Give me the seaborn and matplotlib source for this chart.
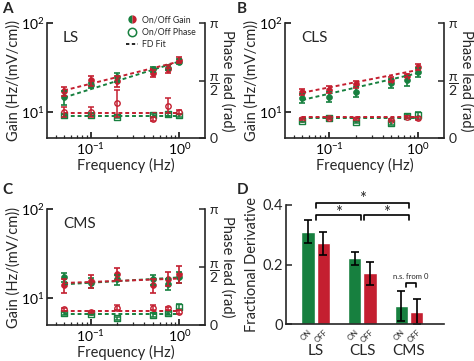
import numpy as np
import pandas as pd
import matplotlib
matplotlib.use("Agg")
import matplotlib.pyplot as plt
from matplotlib.lines import Line2D
from matplotlib.ticker import NullLocator, FixedLocator, LogLocator
import seaborn as sns

# ---------------- data ----------------
freqs = [0.05, 0.1, 0.2, 0.5, 0.75, 1.0]
fit_freqs = [0.05, 1.0]

# LS
ls_gain_on = [14.5, 19.7, 24.4, 30.1, 31.0, 36.5]
ls_gain_on_err = [2.5, 1.5, 3.0, 2.0, 2.0, 2.5]
ls_gain_off = [16.9, 22.4, 22.0, 27.0, 30.0, 37.8]
ls_gain_off_err = [2.0, 3.0, 3.0, 2.5, 3.0, 3.0]
ls_phase_on = [0.63, 0.64, 0.59, 0.62, 0.65, 0.62]
ls_phase_on_err = [0.04, 0.04, 0.04, 0.05, 0.04, 0.04]
ls_phase_off = [0.72, 0.72, 0.95, 0.52, 0.89, 0.72]
ls_phase_off_err = [0.14, 0.14, 0.36, 0.06, 0.20, 0.06]
ls_fit_on = [14.4, 36.6]
ls_fit_off = [17.3, 36.6]
ls_phase_fit_on = 0.61
ls_phase_fit_off = 0.68

# CLS
cls_gain_on = [14.1, 14.7, 16.7, 21.0, 22.4, 27.7]
cls_gain_on_err = [1.5, 2.0, 2.0, 2.5, 3.0, 3.0]
cls_gain_off = [16.7, 17.7, 20.2, 22.8, 25.4, 31.9]
cls_gain_off_err = [1.2, 1.5, 1.8, 1.5, 1.2, 2.5]
cls_phase_on = [0.48, 0.56, 0.45, 0.42, 0.60, 0.62]
cls_phase_on_err = [0.04, 0.03, 0.03, 0.05, 0.05, 0.10]
cls_phase_off = [0.53, 0.56, 0.53, 0.50, 0.58, 0.54]
cls_phase_off_err = [0.03, 0.03, 0.03, 0.03, 0.03, 0.03]
cls_fit_on = [13.5, 27.1]
cls_fit_off = [16.3, 29.4]
cls_phase_fit_on = 0.55
cls_phase_fit_off = 0.57

# CMS
cms_gain_on = [17.1, 14.9, 16.2, 16.2, 14.4, 17.3]
cms_gain_on_err = [2.0, 2.0, 2.0, 2.0, 2.0, 2.5]
cms_gain_off = [14.0, 15.6, 18.9, 14.0, 16.6, 18.9]
cms_gain_off_err = [2.5, 2.5, 3.0, 2.5, 3.0, 4.0]
cms_phase_on = [0.32, 0.30, 0.18, 0.27, 0.32, 0.50]
cms_phase_on_err = [0.04, 0.03, 0.05, 0.05, 0.04, 0.06]
cms_phase_off = [0.42, 0.36, 0.47, 0.47, 0.45, 0.36]
cms_phase_off_err = [0.05, 0.03, 0.06, 0.06, 0.05, 0.05]
cms_fit_on = [14.3, 17.1]
cms_fit_off = [14.8, 16.6]
cms_phase_fit_on = 0.30
cms_phase_fit_off = 0.38

# Fractional derivative
regions = ["LS", "CLS", "CMS"]
fd_on = [0.31, 0.221, 0.060]
fd_on_err = [0.038, 0.022, 0.050]
fd_off = [0.271, 0.170, 0.041]
fd_off_err = [0.038, 0.039, 0.042]

# ---------------- style ----------------
sns.set_theme(style="ticks")
plt.rcParams["font.family"] = ["Lato", "DejaVu Sans"]
plt.rcParams["mathtext.default"] = "regular"
plt.rcParams["axes.linewidth"] = 1.2

GREEN = "#17803f"
RED = "#c41f30"
DASH = (0, (2.0, 1.5))
FS_LAB = 10.5
FS_TICK = 10

fig = plt.figure(figsize=(4.74, 3.61), dpi=100)


def px_axes(l, t, r, b):
    return fig.add_axes([l / 474, 1 - b / 361, (r - l) / 474, (b - t) / 361])


def gain_panel(ax, name, g_on, g_on_e, g_off, g_off_e, p_on, p_on_e, p_off, p_off_e,
               f_on, f_off, pf_on, pf_off):
    ax.set_xscale("log")
    ax.set_yscale("log")
    ax2 = ax.twinx()
    # fits
    sns.lineplot(x=fit_freqs, y=f_on, ax=ax, color=GREEN, lw=1.4, linestyle=DASH)
    sns.lineplot(x=fit_freqs, y=f_off, ax=ax, color=RED, lw=1.4, linestyle=DASH)
    sns.lineplot(x=fit_freqs, y=[pf_on, pf_on], ax=ax2, color=GREEN, lw=1.4, linestyle=DASH)
    sns.lineplot(x=fit_freqs, y=[pf_off, pf_off], ax=ax2, color=RED, lw=1.4, linestyle=DASH)
    # gain points
    for g, ge, c in ((g_on, g_on_e, GREEN), (g_off, g_off_e, RED)):
        ax.errorbar(freqs, g, yerr=ge, fmt="none", ecolor=c, elinewidth=1.2,
                    capsize=2, capthick=1.2)
        sns.scatterplot(x=freqs, y=g, ax=ax, color=c, s=18, edgecolor=c, linewidth=0.5)
    # phase points
    for p, pe, c, m in ((p_on, p_on_e, GREEN, "s"), (p_off, p_off_e, RED, "o")):
        ax2.errorbar(freqs, p, yerr=pe, fmt="none", ecolor=c, elinewidth=1.1,
                     capsize=2, capthick=1.1)
        sns.scatterplot(x=freqs, y=p, ax=ax2, marker=m, facecolor="white",
                        edgecolor=c, linewidth=1.0, s=15)
    ax.set_xlim(0.032, 1.95)
    ax.set_ylim(5, 100)
    ax2.set_ylim(0, np.pi)

    ax.xaxis.set_major_locator(FixedLocator([0.1, 1.0]))
    ax.xaxis.set_minor_locator(LogLocator(base=10, subs=np.arange(2, 10)))
    ax.set_xticklabels([r"$10^{-1}$", r"$10^{0}$"])
    ax.yaxis.set_major_locator(FixedLocator([10, 100]))
    ax.yaxis.set_minor_locator(NullLocator())
    ax.set_yticklabels([r"$10^{1}$", r"$10^{2}$"])
    ax.tick_params(which="major", direction="in", length=4, width=1.1,
                   labelsize=FS_TICK, pad=2, colors="black")
    ax.tick_params(which="minor", direction="in", length=2.5, width=0.9)
    ax.tick_params(axis="y", which="both", right=False)

    ax2.set_yticks([0, np.pi / 2, np.pi])
    ax2.set_yticklabels(["0", r"$\dfrac{\pi}{2}$", "π"])
    ax2.tick_params(axis="y", direction="in", length=4, width=1.1,
                    labelsize=FS_TICK, pad=3)
    ax2.yaxis.set_minor_locator(NullLocator())

    for a in (ax, ax2):
        a.spines["top"].set_visible(False)
    ax.spines["right"].set_visible(False)
    ax2.spines["left"].set_visible(False)
    ax2.spines["bottom"].set_visible(False)
    ax2.spines["right"].set_linewidth(1.2)

    ax.set_xlabel("Frequency (Hz)", fontsize=FS_LAB, labelpad=1)
    ax.set_ylabel("Gain (Hz/(mV/cm))", fontsize=FS_LAB, labelpad=0)
    ax2.set_ylabel("Phase lead (rad)", fontsize=FS_LAB, rotation=270, labelpad=11)
    ax.text(0.1, 0.87, name, transform=ax.transAxes, fontsize=FS_LAB + 0.5, va="center")
    return ax2


axA = px_axes(47, 22.7, 205, 138.3)
axB = px_axes(285, 22.7, 444, 138.3)
axC = px_axes(47, 209, 205, 325)
axD = px_axes(285.5, 205, 444, 324)

axA2 = gain_panel(axA, "LS", ls_gain_on, ls_gain_on_err, ls_gain_off, ls_gain_off_err,
                  ls_phase_on, ls_phase_on_err, ls_phase_off, ls_phase_off_err,
                  ls_fit_on, ls_fit_off, ls_phase_fit_on, ls_phase_fit_off)
gain_panel(axB, "CLS", cls_gain_on, cls_gain_on_err, cls_gain_off, cls_gain_off_err,
           cls_phase_on, cls_phase_on_err, cls_phase_off, cls_phase_off_err,
           cls_fit_on, cls_fit_off, cls_phase_fit_on, cls_phase_fit_off)
gain_panel(axC, "CMS", cms_gain_on, cms_gain_on_err, cms_gain_off, cms_gain_off_err,
           cms_phase_on, cms_phase_on_err, cms_phase_off, cms_phase_off_err,
           cms_fit_on, cms_fit_off, cms_phase_fit_on, cms_phase_fit_off)

# legend in A
handles = [
    Line2D([], [], marker="o", ls="none", ms=6, fillstyle="left",
           markerfacecolor=GREEN, markerfacecoloralt=RED, markeredgecolor="none"),
    Line2D([], [], marker="o", ls="none", ms=6, markerfacecolor="white",
           markeredgecolor=GREEN, markeredgewidth=1.1),
    Line2D([], [], color="black", lw=1.2, linestyle=DASH),
]
axA2.legend(handles, ["On/Off Gain", "On/Off Phase", "FD Fit"], loc="upper right",
            bbox_to_anchor=(0.97, 1.1), frameon=False, fontsize=6.3,
            handlelength=1.4, handletextpad=0.5, labelspacing=0.35, borderpad=0)

# ---------------- panel D ----------------
df = pd.DataFrame({
    "region": regions * 2,
    "cond": ["ON"] * 3 + ["OFF"] * 3,
    "value": fd_on + fd_off,
})
sns.barplot(data=df, x="region", y="value", hue="cond", order=regions,
            hue_order=["ON", "OFF"], palette={"ON": GREEN, "OFF": RED},
            width=0.66, gap=0.12, errorbar=None, saturation=1, legend=False, ax=axD)
bars = sorted(axD.patches, key=lambda p: p.get_x())
errs = [e for pair in zip(fd_on_err, fd_off_err) for e in pair]
centers = []
for p, e in zip(bars, errs):
    cx = p.get_x() + p.get_width() / 2
    centers.append(cx)
    axD.errorbar(cx, p.get_height(), yerr=e, fmt="none", ecolor="black",
                 elinewidth=1.2, capsize=3, capthick=1.2)
axD.set_xlim(-0.65, 2.75)
axD.set_ylim(0, 0.4)
axD.set_yticks([0, 0.2, 0.4])
axD.set_yticklabels(["0", "0.2", "0.4"])
axD.set_xticks(centers)
axD.set_xticklabels(["ON", "OFF"] * 3, rotation=45, ha="right", va="top",
                    rotation_mode="anchor", fontsize=5.5)
axD.tick_params(axis="x", length=0, pad=3)
axD.tick_params(axis="y", direction="in", length=4, width=1.1, labelsize=FS_TICK + 0.5, pad=2)
axD.spines["top"].set_visible(False)
axD.spines["right"].set_visible(False)
axD.set_xlabel("")
axD.set_ylabel("Fractional Derivative", fontsize=FS_LAB, labelpad=2)
for i, r in enumerate(regions):
    axD.text(i, -0.23, r, transform=axD.get_xaxis_transform(), ha="center",
             va="center", fontsize=FS_LAB + 0.5)


def bracket(x1, x2, y, h, label, ly, fs):
    axD.plot([x1, x1, x2, x2], [y - h, y, y, y - h], color="black", lw=1.2,
             clip_on=False)
    axD.text((x1 + x2) / 2, ly, label, ha="center", va="center", fontsize=fs,
             clip_on=False)


bracket(0.0, 2.0, 0.406, 0.015, "*", 0.420, 12)
bracket(0.0, 0.97, 0.366, 0.017, "*", 0.373, 12)
bracket(1.04, 2.0, 0.366, 0.017, "*", 0.373, 12)
bracket(1.93, 2.16, 0.139, 0.013, "n.s. from 0", 0.158, 5.5)

# panel letters
for lab, x, y in (("A", 2, 9), ("B", 237, 9), ("C", 2, 190), ("D", 237, 190)):
    fig.text(x / 474, 1 - y / 361, lab, fontsize=11, fontweight="bold",
             va="center", ha="left")

fig.savefig("out.png", dpi=100)
